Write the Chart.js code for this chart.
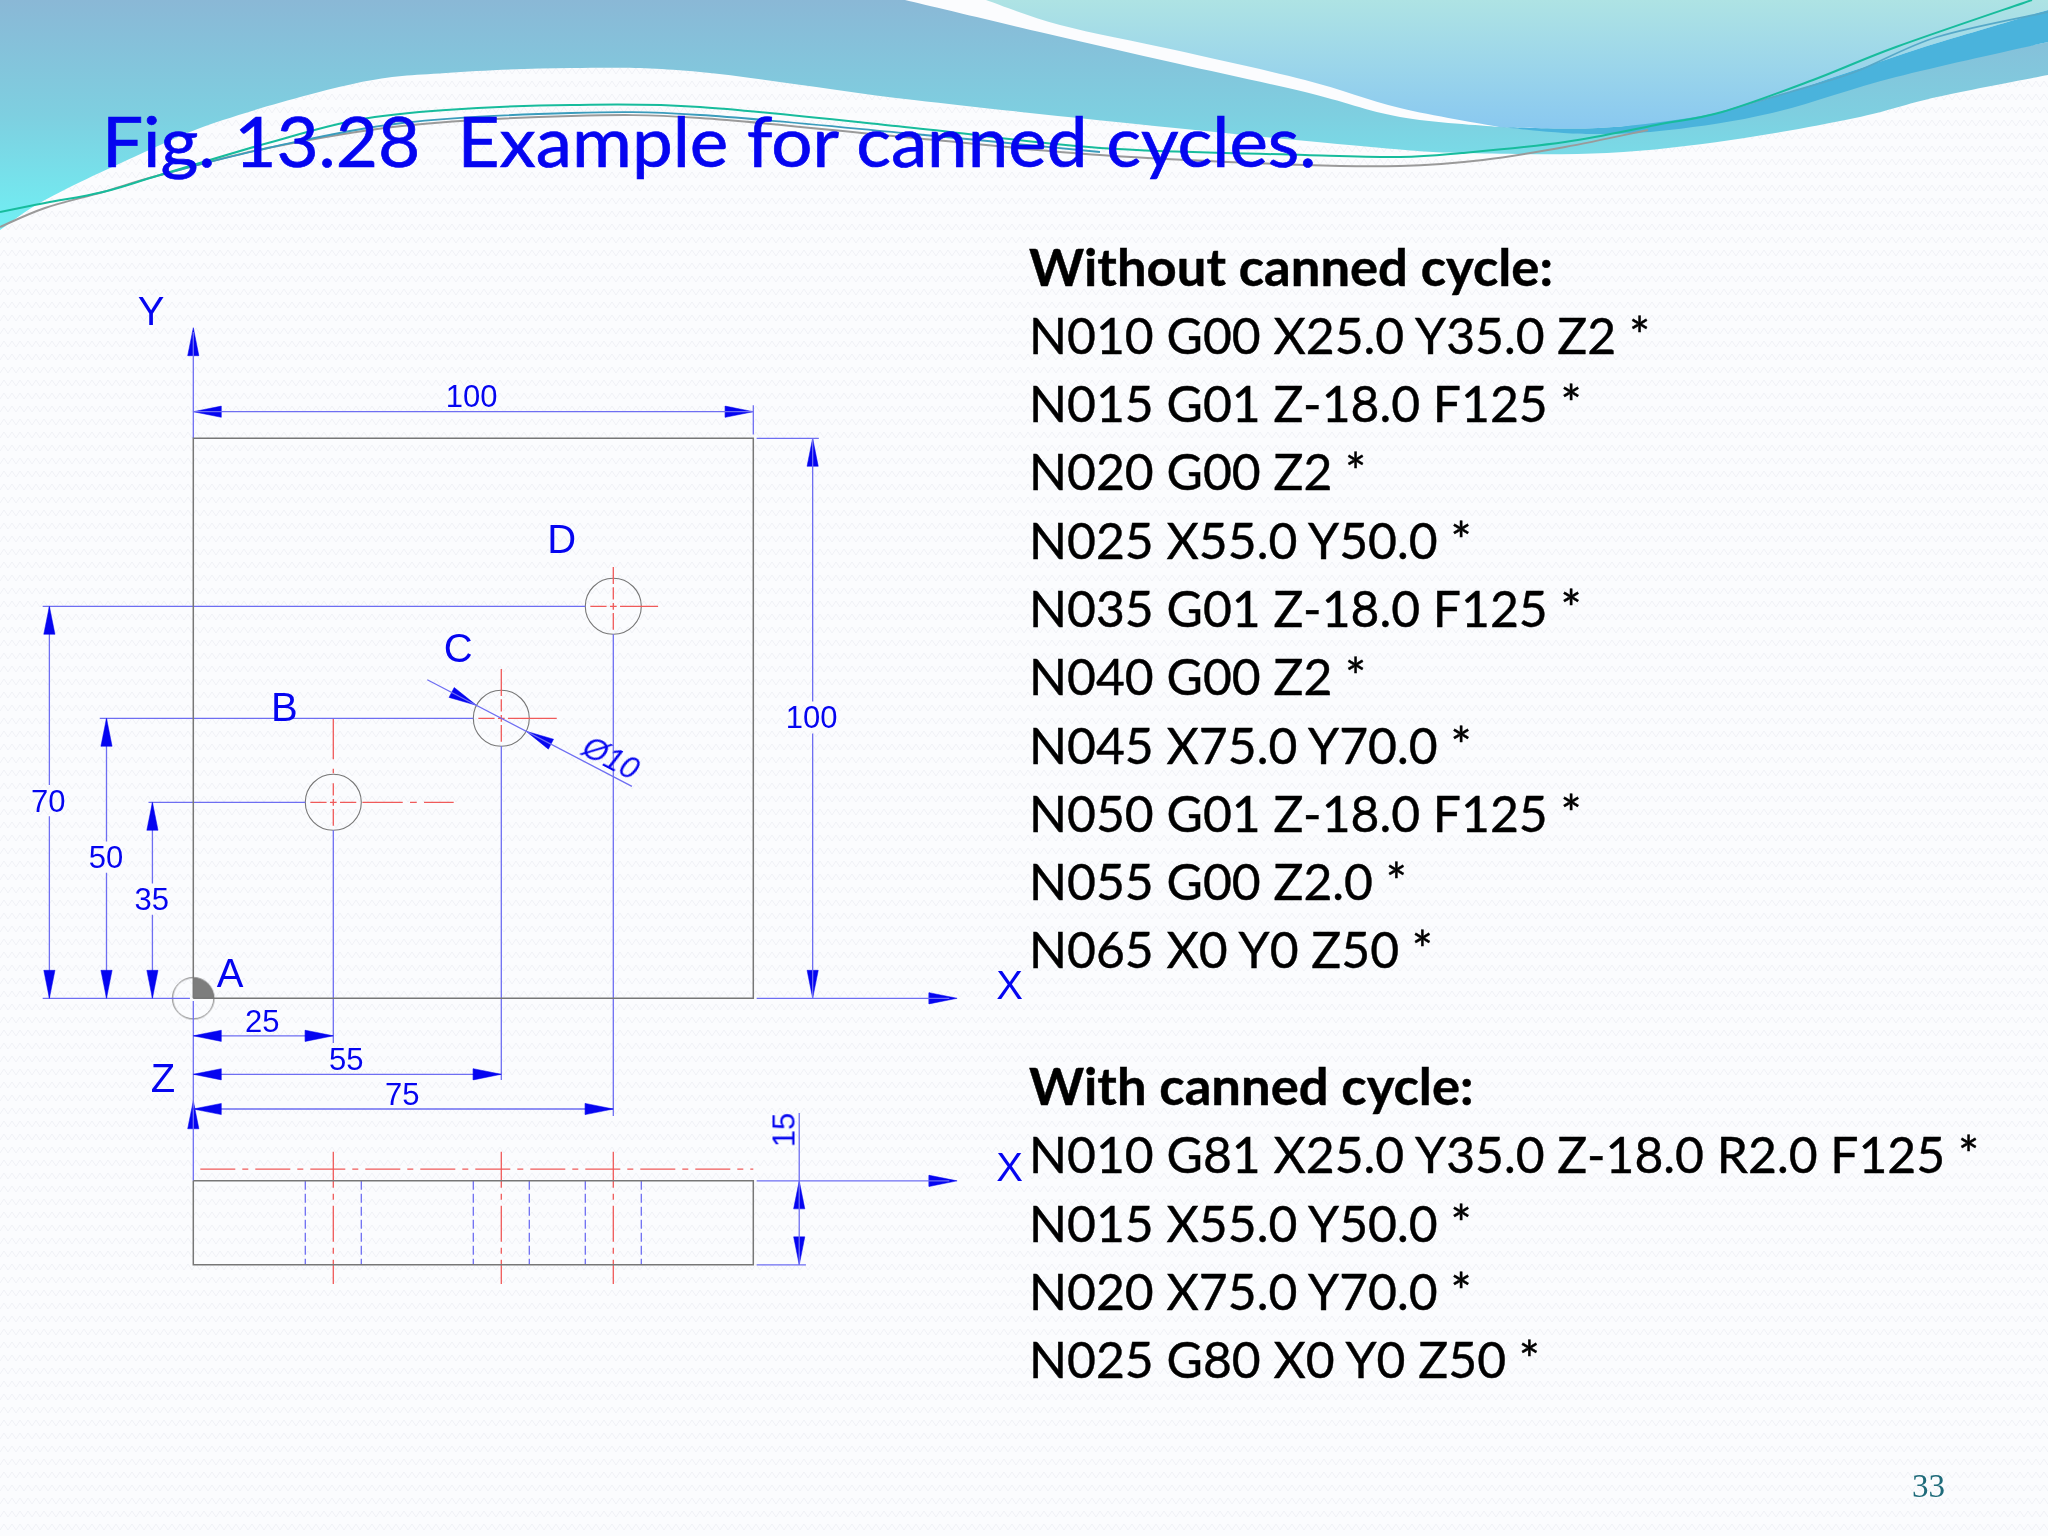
<!DOCTYPE html>
<html>
<head>
<meta charset="utf-8">
<title>Fig. 13.28</title>
<script src="https://cdn.jsdelivr.net/npm/chart.js@4"></script>
<style>
  html, body { margin: 0; padding: 0; background: #fbfcfe; }
  #slide { position: relative; width: 2048px; height: 1536px; overflow: hidden; }
  #bg { position: absolute; left: 0; top: 0; width: 2048px; height: 1536px; }
  #drawing { position: absolute; left: 0; top: 0; }
  #title { position: absolute; left: 102px; top: 98px; font: 70px/84px Lato, sans-serif; color: #0505f0;
           white-space: pre; transform-origin: left top; transform: scaleX(1.04); -webkit-text-stroke: 0.7px #0505f0; }
  #program { position: absolute; left: 1029px; top: 232.5px; font: 51px/68.3px Lato, sans-serif; color: #000;
             white-space: pre; transform-origin: left top; transform: scaleX(0.977); -webkit-text-stroke: 0.45px #000; }
  #program b { font-weight: bold; display: inline-block; transform-origin: left top; transform: scaleX(1.055); }
  #page { position: absolute; left: 1912px; top: 1466px; font: 33px/40px "Liberation Serif", serif; color: #1f6b7a; }
  .lbl { position: absolute; font-family: "Liberation Sans", sans-serif; color: #0505f0; white-space: pre;
         transform: translate(-50%, -50%); line-height: 1; }
</style>
</head>
<body>
<div id="slide">
  <svg id="bg" viewBox="0 0 2048 1536">
    <defs>
      <linearGradient id="mainGrad" gradientUnits="userSpaceOnUse" x1="0" y1="0" x2="0" y2="230">
        <stop offset="0" stop-color="#8ab8d6"/>
        <stop offset="0.5" stop-color="#7ecfe0"/>
        <stop offset="1" stop-color="#70f0f4"/>
      </linearGradient>
      <linearGradient id="lightGrad" gradientUnits="userSpaceOnUse" x1="0" y1="0" x2="0" y2="130">
        <stop offset="0" stop-color="#aee3e4"/>
        <stop offset="1" stop-color="#89c8f0"/>
      </linearGradient>
      <pattern id="paper" patternUnits="userSpaceOnUse" width="16" height="13">
        <path d="M0 9 L4 3 L8 9 L12 3 L16 9" fill="none" stroke="#f0f1f6" stroke-width="1"/>
      </pattern>
    </defs>
    <rect width="2048" height="1536" fill="url(#paper)"/>
    <path id="wMain" fill="url(#mainGrad)"/>
    <path id="wGap" fill="#fbfcfe"/>
    <path id="wLight" fill="url(#lightGrad)"/>
    <path id="wBand" fill="#4ab3dc"/>
    <g fill="none">
      <path id="cGray" stroke="#9a9a9a" stroke-width="2"/>
      <path id="cBlue2" stroke="#56a8c8" stroke-width="1.8"/>
      <path id="cBlue" stroke="#3a9cbc" stroke-width="1.8"/>
      <path id="cGreen" stroke="#17bc9c" stroke-width="2"/>
    </g>
  </svg>
  <canvas id="drawing" width="2048" height="1536"></canvas>
  <div id="title">Fig. 13.28  Example for canned cycles.</div>
  <div id="program"><b>Without canned cycle:</b>
N010 G00 X25.0 Y35.0 Z2 *
N015 G01 Z-18.0 F125 *
N020 G00 Z2 *
N025 X55.0 Y50.0 *
N035 G01 Z-18.0 F125 *
N040 G00 Z2 *
N045 X75.0 Y70.0 *
N050 G01 Z-18.0 F125 *
N055 G00 Z2.0 *
N065 X0 Y0 Z50 *

<b>With canned cycle:</b>
N010 G81 X25.0 Y35.0 Z-18.0 R2.0 F125 *
N015 X55.0 Y50.0 *
N020 X75.0 Y70.0 *
N025 G80 X0 Y0 Z50 *</div>
  <div id="page">33</div>
</div>
<script>
// part dimensions
var holeNames = ["B", "C", "D"];
var holeX = [25, 55, 75];
var holeY = [35, 50, 70];
var holeDia = 10;
var plateW = 100;
var plateH = 100;
var plateT = 15;

// page scale: 1 drawing unit = 5.6 px, origin at (193.3, 998.3)
var PX = 5.6, OX = 193.3, OY = 998.3;
var viewBlue = "#6e6ef2", viewGray = "#777777", viewRed = "#f05a5a", solidBlue = "#0505f0";

/* slide background waves */
function smooth(p) {
    var d = "M" + p[0][0] + " " + p[0][1];
    for (var i = 0; i < p.length - 1; i++) {
        var a = p[Math.max(i - 1, 0)], b = p[i], c = p[i + 1], e = p[Math.min(i + 2, p.length - 1)];
        d += " C" + (b[0] + (c[0] - a[0]) / 6) + " " + (b[1] + (c[1] - a[1]) / 6) + " " +
            (c[0] - (e[0] - b[0]) / 6) + " " + (c[1] - (e[1] - b[1]) / 6) + " " + c[0] + " " + c[1];
    }
    return d;
}
function setPath(id, d) { document.getElementById(id).setAttribute("d", d); }

var edgeMain = [[0, 230], [45, 200], [134, 157], [223, 120], [357, 83], [446, 73], [571, 68], [700, 72], [914, 100],
    [1175, 128], [1371, 147], [1462, 153], [1607, 153], [1731, 140], [1855, 118], [1937, 97], [2048, 75]];
var edgeGapL = [[905, 0], [1044, 33], [1175, 63], [1305, 92], [1400, 117], [1499, 127]];
var edgeLightL = [[986, 0], [1060, 25], [1175, 50], [1305, 80], [1400, 108], [1499, 127]];
var edgeBandU = [[1499, 127], [1598, 128], [1689, 118], [1755, 103], [1855, 70], [1937, 43], [2048, 10]];
var edgeBandL = [[1499, 127], [1586, 134], [1669, 130], [1772, 113], [1896, 77], [2048, 42]];

setPath("wMain", smooth(edgeMain) + " V0 H0 Z");
setPath("wGap", smooth(edgeGapL) + " L1586 134 L2048 42 V0 Z");
setPath("wLight", smooth(edgeLightL) + smooth(edgeBandU).replace("M1499 127", "") + " V0 Z");
setPath("wBand", smooth(edgeBandL) + " V10 " + smooth(edgeBandU.slice().reverse()).replace(/^M\S+ \S+/, "") + " Z");
setPath("cGreen", smooth([[0, 212], [45, 203], [103, 192], [160, 175], [268, 143], [357, 120], [446, 110], [571, 105],
    [700, 107], [914, 128], [1100, 148], [1305, 155], [1400, 157], [1462, 153], [1565, 142], [1656, 125], [1722, 112],
    [1813, 80], [1896, 47], [2032, 0]]));
setPath("cBlue", smooth([[160, 175], [268, 148], [402, 123], [571, 113], [700, 115], [914, 134], [1100, 152]]));
setPath("cBlue2", smooth([[1722, 112], [1790, 92], [1855, 72], [1937, 37], [2048, 12]]));
setPath("cGray", smooth([[0, 227], [45, 208], [103, 192], [160, 175], [268, 148], [402, 126], [571, 116], [700, 118],
    [914, 138], [1100, 155], [1305, 165], [1400, 166], [1483, 160], [1565, 147], [1648, 130]]));

var datasets = [];

// polyline with NaN breaks between separate strokes
function lines(color, segs, extra) {
    var pts = [];
    segs.forEach(function (s) {
        for (var i = 0; i < s.length; i += 2) pts.push({ x: s[i], y: s[i + 1] });
        pts.push({ x: NaN, y: NaN });
    });
    var ds = {
        data: pts, showLine: true, spanGaps: false, pointRadius: 0,
        borderColor: color, borderWidth: 1.3, fill: false
    };
    for (var k in extra) ds[k] = extra[k];
    datasets.push(ds);
}

// arrow head, tip at (x, y), pointing along (dx, dy)
function arrow(x, y, dx, dy) {
    var n = Math.sqrt(dx * dx + dy * dy), ux = dx / n, uy = dy / n;
    var len = 5, hw = 1.0;
    datasets.push({
        data: [
            { x: x, y: y },
            { x: x - ux * len - uy * hw, y: y - uy * len + ux * hw },
            { x: x - ux * len + uy * hw, y: y - uy * len - ux * hw },
            { x: x, y: y }
        ],
        showLine: true, pointRadius: 0, borderWidth: 0.5,
        borderColor: solidBlue, backgroundColor: solidBlue, fill: "shape"
    });
}

var topT = -32.6, botT = topT - plateT;

/* plate outlines */
lines(viewGray, [
    [0, 0, 0, plateH, plateW, plateH, plateW, 0, 0, 0],
    [0, topT, plateW, topT, plateW, botT, 0, botT, 0, topT]
], { borderWidth: 1.5 });

/* axes and extension lines */
var railLeft = [-25.7, -15.5, -7.3];
var textGap = [35.3, 25.2, 17.7];
var segs = [
    [0, plateH, 0, 119],
    [0, -0.5, 0, topT],
    [100.6, 0, 135, 0],
    [100.6, topT, 135, topT],
    [100.6, botT, 109.4, botT],
    [100.6, plateH, 111.7, plateH],
    [plateW, 100.7, plateW, 105.9],
    [0, 104.75, plateW, 104.75],
    [110.6, plateH, 110.6, 53],
    [110.6, 47.3, 110.6, 0],
    [-26.9, 0, -0.6, 0],
    [108.2, -20.5, 108.2, botT]
];
// dimension rails and hole leaders, order is D, C, B as on the left of the drawing
var order = [2, 1, 0];
var ends = [-21, -14.6, -8];
var dimY = [-19.77, -13.57, -6.7];
var startLeft = [-26.9, -16.7, -8];
order.forEach(function (h, i) {
    var hx = holeX[h], hy = holeY[h], r = holeDia / 2;
    segs.push([startLeft[i], hy, hx - r, hy]);
    segs.push([railLeft[i], hy, railLeft[i], textGap[i] + 2.8]);
    segs.push([railLeft[i], textGap[i] - 2.8, railLeft[i], 0]);
    segs.push([hx, hy - r, hx, ends[i]]);
    segs.push([0, dimY[i], hx, dimY[i]]);
    arrow(railLeft[i], hy, 0, 1);
    arrow(railLeft[i], 0, 0, -1);
    arrow(0, dimY[i], -1, 0);
    arrow(hx, dimY[i], 1, 0);
});
lines(viewBlue, segs);

/* arrow heads of axes and overall dimensions */
arrow(0, 119.75, 0, 1);
arrow(136.4, 0, 1, 0);
arrow(136.4, topT, 1, 0);
arrow(0, -18.3, 0, 1);
arrow(0, 104.75, -1, 0);
arrow(plateW, 104.75, 1, 0);
arrow(110.6, plateH, 0, 1);
arrow(110.6, 0, 0, -1);
arrow(108.2, topT, 0, 1);
arrow(108.2, botT, 0, -1);

/* diameter leader through hole C */
var cx = holeX[1], cy = holeY[1];
var ux = 0.887, uy = -0.462;
lines(viewBlue, [[cx - 14.9 * ux, cy - 14.9 * uy, cx + 26.3 * ux, cy + 26.3 * uy]]);
arrow(cx - 5 * ux, cy - 5 * uy, ux, uy);
arrow(cx + 5 * ux, cy + 5 * uy, -ux, -uy);

/* centre marks */
function cross(x, y, r) {
    return [
        [x - 0.6, y, x + 0.6, y], [x, y - 0.6, x, y + 0.6],
        [x - 4.1, y, x - 1.2, y], [x + 1.2, y, x + r, y],
        [x, y + 1.2, x, y + 3.4], [x, y - 1.2, x, y - 4.2]
    ];
}
var marks = [];
holeX.forEach(function (hx, i) {
    marks = marks.concat(cross(hx, holeY[i], i === 2 ? 8 : 4.1));
});
// long arms outside the holes
marks.push([holeX[0] + 5.2, holeY[0], holeX[0] + 12.4, holeY[0]], [holeX[0] + 13.7, holeY[0], holeX[0] + 14.9, holeY[0]],
    [holeX[0] + 16.2, holeY[0], holeX[0] + 21.5, holeY[0]],
    [holeX[0], holeY[0] + 7.7, holeX[0], holeY[1]], [holeX[0], holeY[0] + 5.2, holeX[0], holeY[0] + 6]);
marks.push([holeX[1] + 3, holeY[1], holeX[1] + 9.9, holeY[1]], [holeX[1], holeY[1] + 4, holeX[1], holeY[1] + 8.8]);
marks.push([holeX[2], holeY[2] + 4, holeX[2], holeY[2] + 7]);
lines(viewRed, marks);

/* side view hidden lines and centre lines */
var hidden = [];
var vert = [];
holeX.forEach(function (hx) {
    hidden.push([hx - holeDia / 2, topT, hx - holeDia / 2, botT], [hx + holeDia / 2, topT, hx + holeDia / 2, botT]);
    vert.push([hx, -27.4, hx, -51]);
});
lines(viewBlue, hidden, { borderDash: [9, 4] });
vert.forEach(function (v) { lines(viewRed, [v], { borderDash: [36, 6, 6, 6] }); });
lines(viewRed, [[0, -30.5, plateW, -30.5]], { borderDash: [35, 7, 6, 7], borderDashOffset: -7 });

/* origin symbol, drawn once and used as a point style */
var sym = document.createElement("canvas");
sym.width = 44; sym.height = 44;
var sc = sym.getContext("2d");
sc.fillStyle = "#7d7d7d";
sc.beginPath(); sc.moveTo(22, 22); sc.arc(22, 22, 20.7, -Math.PI / 2, 0); sc.closePath(); sc.fill();
sc.strokeStyle = viewGray; sc.lineWidth = 1;
sc.beginPath(); sc.arc(22, 22, 20.7, 0, Math.PI * 2); sc.stroke();
datasets.push({ data: [{ x: 0, y: 0 }], pointStyle: sym, pointRadius: 22 });

/* the three holes */
datasets.push({
    data: holeX.map(function (x, i) { return { x: x, y: holeY[i] }; }),
    pointStyle: "circle", pointRadius: holeDia / 2 * PX,
    pointBackgroundColor: "transparent", pointBorderColor: viewGray, pointBorderWidth: 1.1
});

var chart = new Chart(document.getElementById("drawing"), {
    type: "scatter",
    data: { datasets: datasets },
    options: {
        responsive: false,
        animation: false,
        devicePixelRatio: 1,
        layout: { padding: 0, autoPadding: false },
        plugins: { legend: { display: false }, tooltip: { enabled: false }, title: { display: false } },
        scales: {
            x: { display: false, type: "linear", min: -OX / PX, max: (2048 - OX) / PX },
            y: { display: false, type: "linear", min: (OY - 1536) / PX, max: OY / PX }
        }
    }
});

// labels of the drawing sit at drawing coordinates, placed through the scales
function label(text, x, y, size, css) {
    var el = document.createElement("span");
    el.className = "lbl";
    el.textContent = text;
    el.style.left = chart.scales.x.getPixelForValue(x) + "px";
    el.style.top = chart.scales.y.getPixelForValue(y) + "px";
    el.style.fontSize = size + "px";
    if (css) el.style.cssText += css;
    document.getElementById("slide").appendChild(el);
}
label("Y", -7.55, 122.8, 40);
label("X", 145.75, 2.4, 40);
label("X", 145.75, -30.1, 40);
label("Z", -5.4, -14.2, 40);
label("A", 6.55, 4.6, 40);
label(holeNames[0], 16.25, 52.1, 40);
label(holeNames[1], 47.3, 62.6, 40);
label(holeNames[2], 65.8, 82.1, 40);
label(String(plateW), 49.7, 107.5, 31);
label(String(plateH), 110.4, 50.2, 31);
label(String(holeY[2]), -25.9, 35.3, 31);
label(String(holeY[1]), -15.6, 25.2, 31);
label(String(holeY[0]), -7.4, 17.7, 31);
label(String(holeX[0]), 12.3, -4, 31);
label(String(holeX[1]), 27.3, -10.8, 31);
label(String(holeX[2]), 37.3, -17, 31);
label(String(plateT), 105.4, -23.5, 31, "transform:translate(-50%,-50%) rotate(-90deg);");
label("Ø" + holeDia, 74.6, 42.9, 31, "transform:translate(-50%,-50%) rotate(27.5deg);font-style:italic;");
</script>
</body>
</html>
